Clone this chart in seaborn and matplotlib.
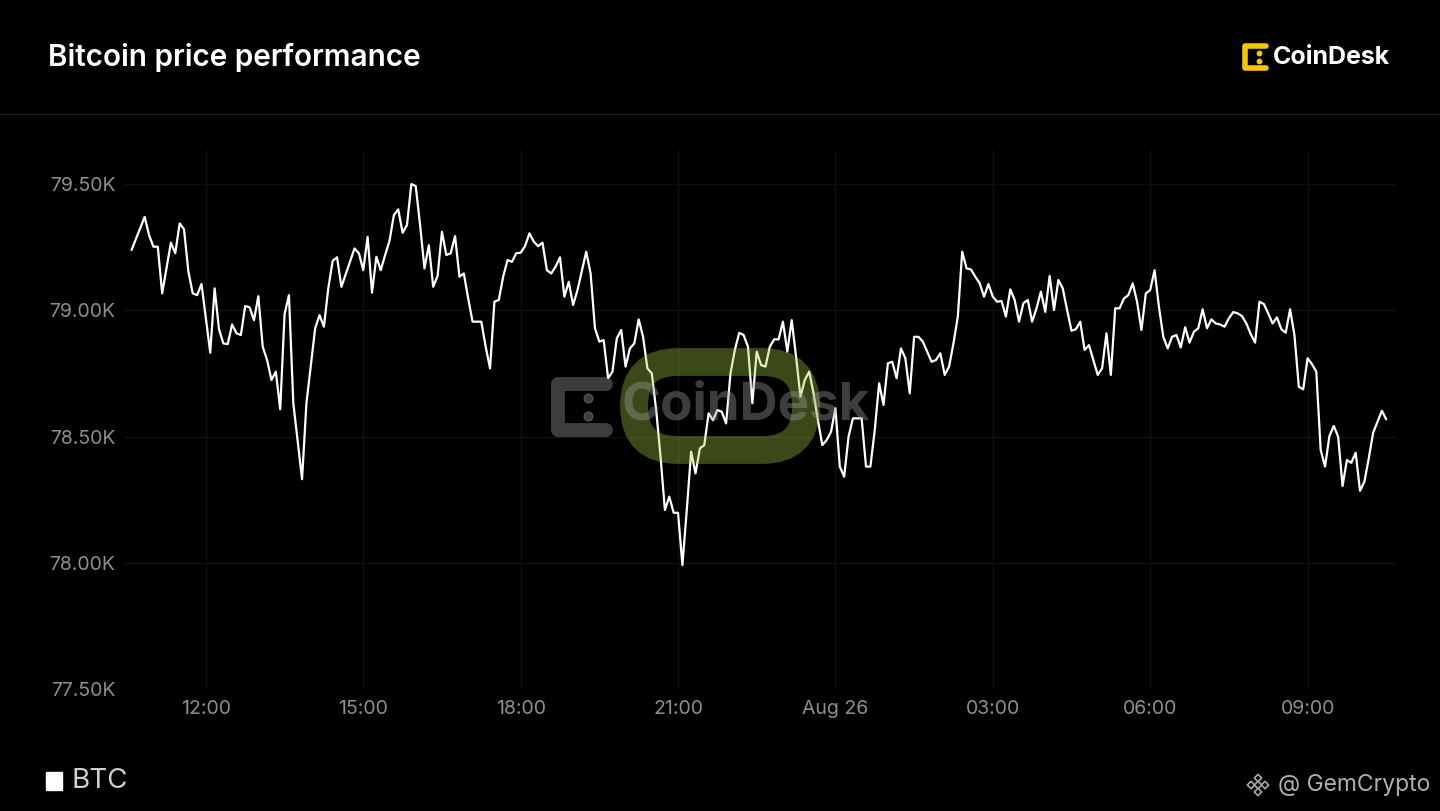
#!/usr/bin/env python3
import matplotlib
matplotlib.use("Agg")
import matplotlib.pyplot as plt
import seaborn as sns
import numpy as np
import pandas as pd
from matplotlib.patches import FancyBboxPatch, Rectangle

# --- Data (5-minute BTC samples) ---
START = pd.Timestamp("2024-08-25 12:00")
first_step, last_step = -17, 270
missing_steps = [-16, -15, -9, 0, 21, 24, 32, 33, 86]
price_usd = [
    79239, 79370, 79298, 79252, 79252, 79067, 79268, 79226, 79344, 79321,
    79153, 79067, 79060, 79104, 78832, 79087, 78925, 78869, 78866, 78944,
    78909, 78902, 79017, 79012, 78961, 79056, 78856, 78803, 78724, 78757,
    78608, 78985, 79060, 78632, 78331, 78632, 78929, 78981, 78935, 79087,
    79196, 79210, 79093, 79245, 79226, 79159, 79291, 79070, 79212, 79159,
    79219, 79275, 79377, 79400, 79307, 79338, 79500, 79492, 79338, 79166,
    79258, 79093, 79136, 79311, 79219, 79226, 79294, 79133, 79146, 79047,
    78955, 78955, 78955, 78856, 78770, 79034, 79041, 79133, 79199, 79192,
    79226, 79228, 79254, 79305, 79272, 79254, 79268, 79159, 79146, 79173,
    79210, 79054, 79113, 79021, 79080, 79232, 79146, 78929, 78876, 78882,
    78731, 78757, 78889, 78922, 78777, 78849, 78869, 78964, 78895, 78770,
    78750, 78605, 78420, 78209, 78262, 78198, 78198, 77991, 78209, 78440,
    78354, 78453, 78466, 78592, 78565, 78605, 78598, 78552, 78750, 78843,
    78911, 78902, 78856, 78632, 78836, 78783, 78777, 78856, 78885, 78885,
    78955, 78836, 78961, 78816, 78658, 78724, 78757, 78671, 78565, 78466,
    78486, 78519, 78612, 78381, 78341, 78499, 78572, 78572, 78572, 78381,
    78381, 78526, 78711, 78625, 78790, 78796, 78731, 78849, 78810, 78671,
    78895, 78895, 78876, 78836, 78796, 78803, 78830, 78744, 78777, 78869,
    78975, 79232, 79166, 79162, 79133, 79107, 79054, 79104, 79054, 79034,
    79037, 78975, 79083, 79041, 78955, 79028, 79041, 78955, 79008, 79074,
    78994, 79136, 79001, 79120, 79087, 79001, 78919, 78925, 78955, 78843,
    78862, 78803, 78744, 78770, 78909, 78744, 79008, 79008, 79047, 79060,
    79107, 79034, 78922, 79067, 79080, 79159, 79014, 78895, 78849, 78895,
    78902, 78853, 78933, 78872, 78915, 78929, 79004, 78929, 78964, 78948,
    78944, 78935, 78968, 78993, 78988, 78977, 78948, 78906, 78872, 79034,
    79025, 78988, 78948, 78972, 78925, 78911, 79004, 78902, 78697, 78687,
    78810, 78787, 78757, 78447, 78381, 78502, 78542, 78499, 78304, 78407,
    78396, 78436, 78285, 78321, 78414, 78515, 78559, 78602, 78568,
]
tick_times = ["2024-08-25 12:00", "2024-08-25 15:00", "2024-08-25 18:00",
              "2024-08-25 21:00", "2024-08-26 00:00", "2024-08-26 03:00",
              "2024-08-26 06:00", "2024-08-26 09:00"]
tick_labels = ["12:00", "15:00", "18:00", "21:00", "Aug 26", "03:00", "06:00", "09:00"]
y_ticks = [77500, 78000, 78500, 79000, 79500]

steps = [s for s in range(first_step, last_step + 1) if s not in missing_steps]
df = pd.DataFrame({
    "time": START + pd.to_timedelta(np.array(steps) * 5, unit="min"),
    "price": price_usd,
})

# --- Theme ---
sns.set_theme(style="dark")
plt.rcParams.update({
    "figure.facecolor": "black",
    "axes.facecolor": "black",
    "savefig.facecolor": "black",
})
plt.rcParams["font.family"] = ["Inter", "DejaVu Sans"]

W, H = 1440, 811
fig = plt.figure(figsize=(W / 100, H / 100), dpi=100)

# main chart area (pixel box 125..1395 x 150..689)
ax = fig.add_axes([125 / W, 1 - 689 / H, (1395 - 125) / W, (689 - 150) / H])
sns.lineplot(data=df, x="time", y="price", ax=ax, color="white", linewidth=1.6)

ax.set_xlim(START - pd.Timedelta(minutes=92.5), START + pd.Timedelta(minutes=1360))
ax.set_ylim(77500, 79635)
ax.set_xticks(pd.to_datetime(tick_times))
ax.set_xticklabels(tick_labels)
ax.set_yticks(y_ticks)
ax.set_yticklabels([f"{v / 1000:.2f}K" for v in y_ticks])
ax.set_xlabel("")
ax.set_ylabel("")
ax.tick_params(axis="both", length=0, colors="#8e8e8e", labelsize=14)
ax.tick_params(axis="x", pad=8)
ax.tick_params(axis="y", pad=7)
ax.grid(True, color="#111111", linewidth=1)
for s in ax.spines.values():
    s.set_visible(False)

# overlay in pixel coordinates for header, footer and watermark
ov = fig.add_axes([0, 0, 1, 1])
ov.set_xlim(0, W)
ov.set_ylim(H, 0)
ov.axis("off")
ov.patch.set_alpha(0)

ov.text(48, 57, "Bitcoin price performance", color="white", fontsize=21.4,
        fontweight="semibold", va="center", ha="left")
ov.plot([0, W], [114, 114], color="#222222", linewidth=1)

# CoinDesk logo top right
ov.plot([1266, 1245, 1245, 1266], [46, 46, 68, 68], color="#f7c600",
        linewidth=4, solid_capstyle="round", solid_joinstyle="round")
ov.scatter([1259, 1259], [53, 61], s=10, color="#f7c600")
ov.text(1273, 57, "CoinDesk", color="white", fontsize=18, fontweight="bold",
        va="center", ha="left")

# watermark
green = "#a9d342"
ov.add_patch(FancyBboxPatch((634, 362), 172, 88,
                            boxstyle="round,pad=0,rounding_size=44",
                            fill=False, edgecolor=green, linewidth=20, alpha=0.35))
ov.plot([606, 558, 558, 606], [384, 384, 430, 430], color="#9a9a9a", alpha=0.4,
        linewidth=10, solid_capstyle="round", solid_joinstyle="round")
ov.scatter([588, 588], [398, 416], s=40, color="#9a9a9a", alpha=0.4)
ov.text(622, 406, "CoinDesk", color="#9a9a9a", alpha=0.4, fontsize=38,
        fontweight="bold", va="center", ha="left")

# legend bottom left
ov.add_patch(Rectangle((46, 772), 16, 18, color="white"))
ov.text(72, 781, "BTC", color="#d0d0d0", fontsize=20, va="center", ha="left")

# source mark bottom right
ov.scatter([1258, 1251, 1265, 1258, 1258], [785, 785, 785, 778, 792], marker="D",
           s=14, facecolor="none", edgecolor="#a8a8a8", linewidth=1.2)
ov.text(1278, 785, "@ GemCrypto", color="#b0b0b0", fontsize=16.5, va="center", ha="left")

fig.savefig("out.png", dpi=100)
